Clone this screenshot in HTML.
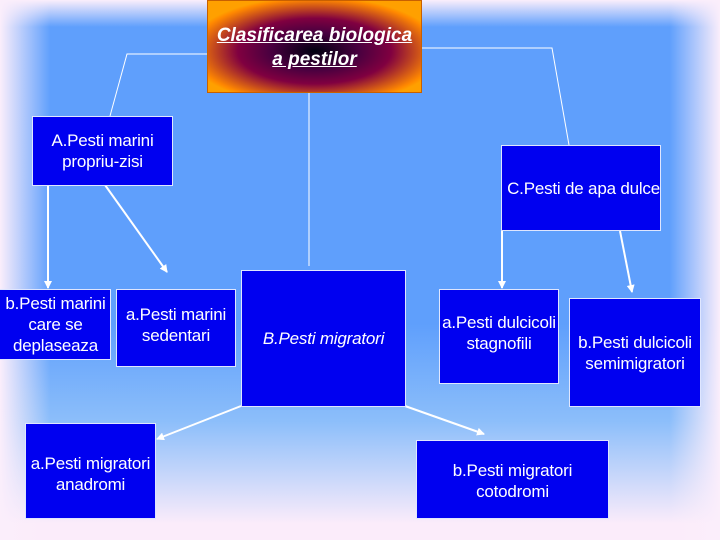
<!DOCTYPE html>
<html><head><meta charset="utf-8"><style>
body{margin:0;width:720px;height:540px;overflow:hidden;position:relative;font-family:"Liberation Sans",sans-serif;
background:#fbeefb;}
.bg{position:absolute;left:0;top:0;width:720px;height:540px;
background:linear-gradient(to bottom,rgba(95,159,252,1) 0%,rgba(95,159,252,1) 60%,rgba(140,190,250,1) 78%,rgba(251,236,250,1) 97%);}
.bgl{position:absolute;left:0;top:0;width:720px;height:540px;
background:linear-gradient(to right,#fbeefb 0%,rgba(251,238,251,0) 7%,rgba(251,238,251,0) 93%,#fbeefb 100%),
linear-gradient(to bottom,#fbeefb 0%,rgba(251,238,251,0) 5%);}
.b{position:absolute;background:#0000f0;border:1px solid #dfe6ff;color:#fff;font-size:17px;letter-spacing:-0.2px;line-height:21px;display:flex;align-items:center;justify-content:center;text-align:center;box-sizing:border-box;white-space:nowrap;overflow:hidden}
.t{position:absolute;left:207px;top:0;width:215px;height:93px;box-sizing:border-box;border:1px solid #c86000;
background:radial-gradient(ellipse 60% 60% at 50% 55%,#000010 0%,#4a0040 35%,#800040 60%,#ff8800 95%,#ffa000 100%);
color:#fff;font-style:italic;font-weight:bold;text-decoration:underline;font-size:19px;text-align:center;line-height:24px;padding-top:23px;letter-spacing:0px;white-space:nowrap}
</style></head><body>
<div class="bg"></div><div class="bgl"></div>
<svg width="720" height="540" style="position:absolute;left:0;top:0">
<defs><marker id="a" markerWidth="8" markerHeight="8" refX="7" refY="4" orient="auto" markerUnits="userSpaceOnUse"><path d="M0,0 L8,4 L0,8 z" fill="#fff"/></marker></defs>
<g stroke="#fff" fill="none">
<polyline points="207,54 127,54 110,116" stroke-width="1"/>
<polyline points="422,48 552,48 569,145" stroke-width="1"/>
<line x1="309" y1="93" x2="309" y2="266" stroke-width="1"/>
<g stroke-width="2" marker-end="url(#a)">
<line x1="48" y1="186" x2="48" y2="288"/>
<line x1="105" y1="185" x2="167" y2="272"/>
<line x1="502" y1="231" x2="502" y2="288"/>
<line x1="620" y1="231" x2="632" y2="292"/>
<line x1="241" y1="406" x2="157" y2="439"/>
<line x1="405" y1="406" x2="484" y2="434"/>
</g></g></svg>
<div class="t">Clasificarea biologica<br>a pestilor</div>
<div class="b" style="left:32px;top:116px;width:141px;height:70px">A.Pesti marini<br>propriu-zisi</div>
<div class="b" style="left:501px;top:145px;width:160px;height:86px;justify-content:flex-end;padding-right:0px">C.Pesti de apa dulce</div>
<div class="b" style="left:-10px;top:289px;width:121px;height:71px;padding-left:10px">b.Pesti marini<br>care se<br>deplaseaza</div>
<div class="b" style="left:116px;top:289px;width:120px;height:78px;align-items:flex-start;padding-top:14px">a.Pesti marini<br>sedentari</div>
<div class="b" style="left:241px;top:270px;width:165px;height:137px;font-style:italic">B.Pesti migratori</div>
<div class="b" style="left:439px;top:289px;width:120px;height:95px;align-items:flex-start;padding-top:22px">a.Pesti dulcicoli<br>stagnofili</div>
<div class="b" style="left:569px;top:298px;width:132px;height:109px;align-items:flex-start;padding-top:33px">b.Pesti dulcicoli<br>semimigratori</div>
<div class="b" style="left:25px;top:423px;width:131px;height:96px;align-items:flex-start;padding-top:29px">a.Pesti migratori<br>anadromi</div>
<div class="b" style="left:416px;top:440px;width:193px;height:79px;align-items:flex-start;padding-top:19px">b.Pesti migratori<br>cotodromi</div>
</body></html>
